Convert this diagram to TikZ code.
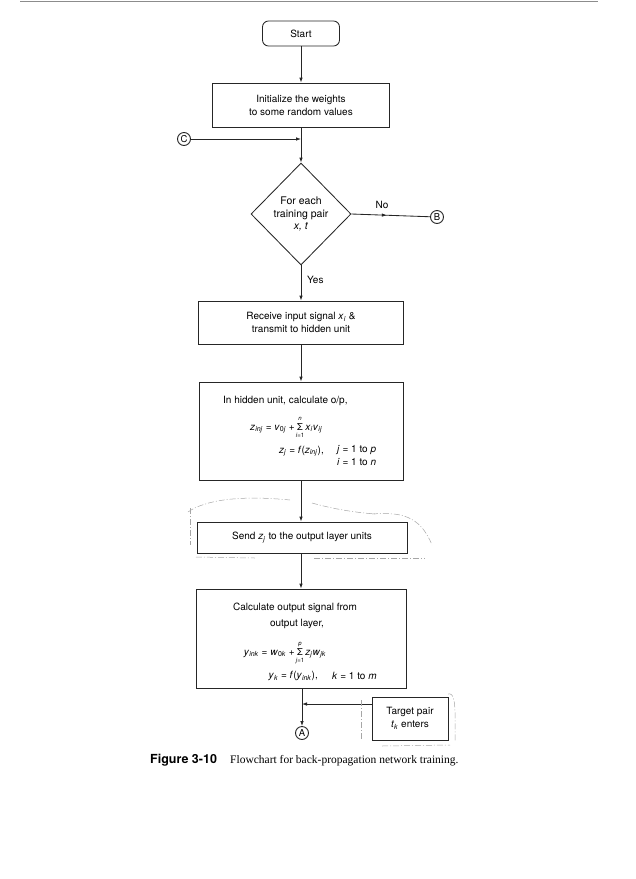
\documentclass[tikz,border=0pt]{standalone}
\usepackage{fontspec}
\setmainfont{TeX Gyre Heros}
\newfontfamily\capfont{Liberation Serif}
\usetikzlibrary{arrows.meta,shapes.geometric,decorations.markings}
\newcommand{\ITsub}[2]{\textit{#1}\textsubscript{#2}}
\begin{document}
\begin{tikzpicture}[x=1pt,y=-1pt,
  txt/.style={inner sep=0pt, font=\fontsize{10}{13}\selectfont},
  sig/.style={inner sep=0pt, font=\fontsize{9.5}{10}\selectfont},
  lim/.style={inner sep=0pt, font=\fontsize{6}{6}\selectfont},
  box/.style={draw=black!85, line width=0.85pt, inner sep=0pt, align=center, font=\fontsize{10}{13}\selectfont},
  conn/.style={draw=black!85, line width=0.9pt, circle, inner sep=0pt, minimum size=13pt, font=\fontsize{9.5}{9.5}\selectfont},
  flow/.style={draw=black!85, line width=0.85pt},
  arr/.style={flow, -{Latex[length=5pt,width=3.6pt]}},
  midarr/.style={flow, decoration={markings, mark=at position #1 with {\arrow{Latex[length=5pt,width=3.6pt]}}}, postaction={decorate}},
  scan/.style={draw=black!35, line width=0.5pt, dash pattern=on 6pt off 2pt on 1pt off 2pt}
]
\path[use as bounding box] (0,0) rectangle (636,879);
\draw[draw=black!45, line width=0.6pt] (20,1.5) -- (598,1.5);

% nodes
\node[box, rounded corners=6pt, minimum width=77pt, minimum height=25pt] (start) at (301,33.5) {Start};
\node[box, minimum width=177pt, minimum height=44pt] (init) at (301,105) {Initialize the weights\\to some random values};
\node[diamond, aspect=1, draw=black!85, line width=0.85pt, inner sep=0pt, minimum width=100pt, minimum height=102pt, align=center, font=\fontsize{10.5}{12.5}\selectfont] (dec) at (301,214) {For each\\training pair\\\textit{x, t}};
\node[conn] (C) at (184,139) {C};
\node[conn] (B) at (437,217) {B};
\node[box, minimum width=205pt, minimum height=43pt] (recv) at (301,322.5) {Receive input signal \ITsub{x}{\textit{i}} \&\\transmit to hidden unit};
\node[box, minimum width=204pt, minimum height=98pt] (hid) at (301,431) {};
\node[box, minimum width=210pt, minimum height=31pt] (send) at (302,537.5) {Send \ITsub{z}{\textit{j}} to the output layer units};
\node[box, minimum width=210pt, minimum height=99pt] (calc) at (301,638.5) {};
\node[conn] (A) at (302,733) {A};
\node[box, minimum width=76pt, minimum height=43pt, font=\fontsize{10}{13}\selectfont] (tgt) at (410,718.5) {Target pair\\\ITsub{t}{\textit{k}} enters};

% hidden box text
\node[txt, anchor=west] (h1) at (223,401) {In hidden unit, calculate o/p,};
\node[txt, anchor=base east] (h2a) at (295,430) {\ITsub{z}{\textit{inj}} = \ITsub{v}{0\textit{j}} +};
\node[sig, anchor=base west] (h2s) at ([xshift=2pt]h2a.base east) {Σ};
\node[lim, anchor=base] (h2u) at ([yshift=10pt]h2s.base) {\textit{n}};
\node[lim, anchor=base] (h2l) at ([yshift=-7pt]h2s.base) {\textit{i}=1};
\node[txt, anchor=base west] (h2b) at ([xshift=2pt]h2s.base east) {\ITsub{x}{\textit{i}}\ITsub{v}{\textit{ij}}};
\node[txt, anchor=east] (h3) at (324,451) {\ITsub{z}{\textit{j}} = \textit{f}(\ITsub{z}{\textit{inj}}),};
\node[txt, anchor=west] (h4) at (337,450) {\textit{j} = 1 to \textit{p}};
\node[txt, anchor=west] (h5) at (337,462) {\textit{i} = 1 to \textit{n}};

% calc box text
\node[txt] (c1) at (295,608) {Calculate output signal from};
\node[txt] (c2) at (297,624) {output layer,};
\node[txt, anchor=base east] (c3a) at (295,655) {\ITsub{y}{\textit{ink}} = \ITsub{w}{0\textit{k}} +};
\node[sig, anchor=base west] (c3s) at ([xshift=2pt]c3a.base east) {Σ};
\node[lim, anchor=base] (c3u) at ([yshift=10pt]c3s.base) {\textit{p}};
\node[lim, anchor=base] (c3l) at ([yshift=-7pt]c3s.base) {\textit{j}=1};
\node[txt, anchor=base west] (c3b) at ([xshift=2pt]c3s.base east) {\ITsub{z}{\textit{j}}\ITsub{w}{\textit{jk}}};
\node[txt, anchor=east] (c4) at (318,676) {\ITsub{y}{\textit{k}} = \textit{f}(\ITsub{y}{\textit{ink}}),};
\node[txt, anchor=west] (c5) at (332,676) {\textit{k} = 1 to \textit{m}};

% labels
\node[txt] (no) at (382,205) {No};
\node[txt, anchor=west] (yes) at (307,280) {Yes};

% connectors
\draw[arr] (start) -- (init);
\draw[arr] (init) -- (dec);
\coordinate (cj) at (init.south |- C);
\draw[arr] (C) -- (cj);
\draw[midarr=0.45] (dec.east) -- (B);
\draw[arr] (dec.south) -- (recv.north);
\draw[arr] (recv) -- (hid);
\draw[arr] (hid.south) -- (hid.south |- send.north);
\draw[arr] (hid.south |- send.south) -- (calc.north);
\draw[arr] (calc.south -| A) -- (A);
\coordinate (tj) at (302,704);
\draw[arr] (tgt.west |- tj) -- (tj);

% scan artefacts
\draw[scan] (188,512) .. controls (205,500) and (240,495) .. (290,500);
\draw[scan] (190,508) -- (190,545);
\draw[scan] (312,503) .. controls (330,508) and (350,512) .. (375,514);
\draw[scan] (372,514) .. controls (400,512) and (420,515) .. (432,545);
\draw[scan] (196,557) -- (255,558);
\draw[scan] (314,558) -- (425,558);
\draw[scan] (448,694) .. controls (454,693) and (456,698) .. (455,742);
\draw[scan] (382,746) -- (450,745);
\draw[scan] (361,700) -- (361,740);

% caption
\node[inner sep=0pt, anchor=west, font=\fontsize{12.5}{14}\selectfont\bfseries] (fig) at (150,760) {Figure 3-10};
\node[inner sep=0pt, anchor=west, font=\fontsize{11.5}{14}\selectfont\capfont] (cap) at (230,760.5) {Flowchart for back-propagation network training.};
\end{tikzpicture}
\end{document}
